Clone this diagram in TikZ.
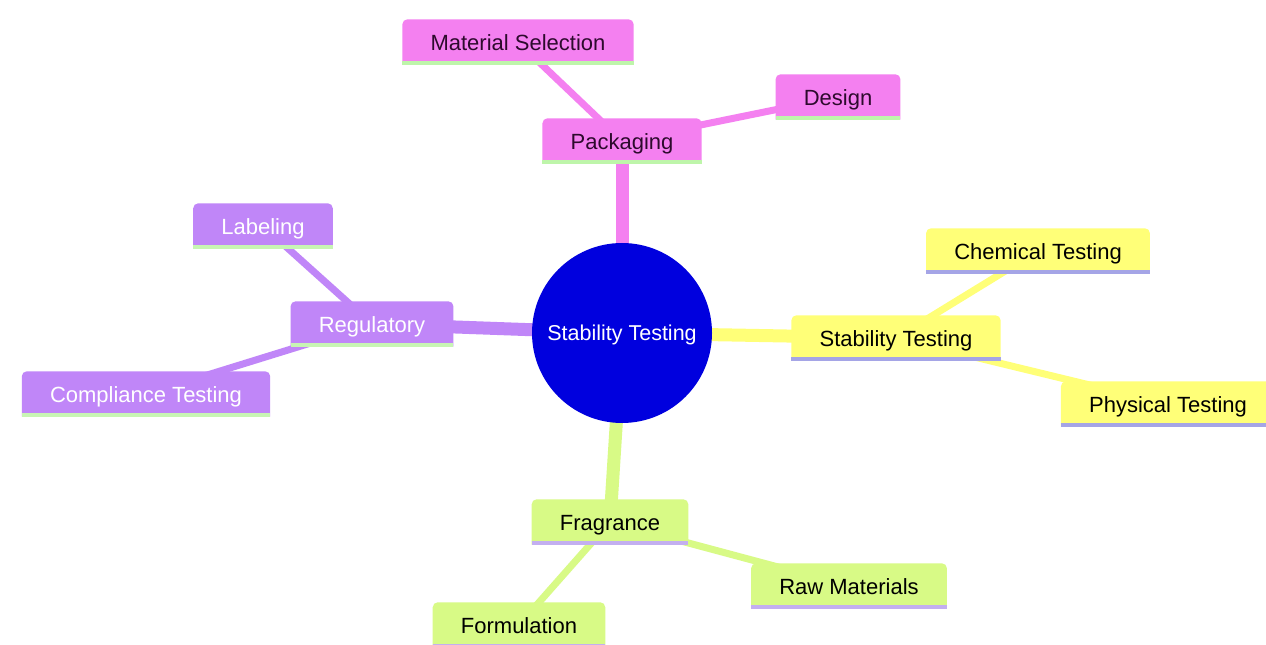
\documentclass[tikz,border=0pt]{standalone}
\usepackage{fontspec}
\setmainfont{Liberation Sans}
\pgfdeclarelayer{edges}
\pgfdeclarelayer{boxes}
\pgfsetlayers{edges,boxes,main}
\definecolor{rootblue}{RGB}{0,0,222}
\definecolor{pinkF}{RGB}{244,128,240}
\definecolor{pinkL}{RGB}{190,245,170}
\definecolor{pinkT}{RGB}{45,10,45}
\definecolor{yelF}{RGB}{255,255,120}
\definecolor{yelL}{RGB}{165,165,230}
\definecolor{purF}{RGB}{192,134,248}
\definecolor{purL}{RGB}{200,245,180}
\definecolor{grnF}{RGB}{216,250,134}
\definecolor{grnL}{RGB}{195,175,240}
\newcommand\mmshape[3]{%
  \begin{pgfonlayer}{boxes}
    \fill[#2] (#1.south west) -- ([yshift=-5pt]#1.north west)
      arc[start angle=180,end angle=90,radius=5pt]
      -- ([xshift=-5pt]#1.north east)
      arc[start angle=90,end angle=0,radius=5pt]
      -- (#1.south east) -- cycle;
    \draw[#3,line width=4pt] ([yshift=2pt]#1.south west) -- ([yshift=2pt]#1.south east);
  \end{pgfonlayer}}
\tikzset{
  mmbox/.style={inner xsep=28pt, inner ysep=0pt, minimum height=45pt,
    text height=19pt, text depth=2pt, font=\fontsize{22}{26}\selectfont},
  mainedge/.style={line width=13pt},
  subedge/.style={line width=7pt},
}
\begin{document}
\begin{tikzpicture}[x=1pt,y=1pt]
\clip (0,0) rectangle (1266,645);
\begin{pgfonlayer}{edges}
\fill[white] (0,0) rectangle (1266,645);
\end{pgfonlayer}
% root
\node[circle, fill=rootblue, minimum size=180pt, inner sep=0pt, text=white,
  text height=18pt, text depth=3pt,
  font=\fontsize{21.5}{26}\selectfont] (root) at (622,312) {Stability Testing};
% pink branch
\node[mmbox, text=pinkT] (pack) at (622,504) {Packaging};
\node[mmbox, text=pinkT] (matsel) at (518,603) {Material Selection};
\node[mmbox, text=pinkT] (design) at (838,548) {Design};
% yellow branch
\node[mmbox, text=black] (stab) at (896,307) {Stability Testing};
\node[mmbox, text=black] (chem) at (1038,394) {Chemical Testing};
\node[mmbox, text=black] (phys) at (1168,241) {Physical Testing};
% purple branch
\node[mmbox, text=white] (reg) at (372,321) {Regulatory};
\node[mmbox, text=white] (label) at (263,419) {Labeling};
\node[mmbox, text=white] (comp) at (146,251) {Compliance Testing};
% green branch
\node[mmbox, text=black] (frag) at (610,123) {Fragrance};
\node[mmbox, text=black] (raw) at (849,59) {Raw Materials};
\node[mmbox, text=black] (form) at (519,20) {Formulation};
% shapes
\mmshape{pack}{pinkF}{pinkL}
\mmshape{matsel}{pinkF}{pinkL}
\mmshape{design}{pinkF}{pinkL}
\mmshape{stab}{yelF}{yelL}
\mmshape{chem}{yelF}{yelL}
\mmshape{phys}{yelF}{yelL}
\mmshape{reg}{purF}{purL}
\mmshape{label}{purF}{purL}
\mmshape{comp}{purF}{purL}
\mmshape{frag}{grnF}{grnL}
\mmshape{raw}{grnF}{grnL}
\mmshape{form}{grnF}{grnL}
% edges
\begin{pgfonlayer}{edges}
\draw[mainedge, pinkF] (root.center) -- (pack.center);
\draw[mainedge, yelF] (root.center) -- (stab.center);
\draw[mainedge, purF] (root.center) -- (reg.center);
\draw[mainedge, grnF] (root.center) -- (frag.center);
\draw[subedge, pinkF] (pack.center) -- (matsel.center);
\draw[subedge, pinkF] (pack.center) -- (design.center);
\draw[subedge, yelF] (stab.center) -- (chem.center);
\draw[subedge, yelF] (stab.center) -- (phys.center);
\draw[subedge, purF] (reg.center) -- (label.center);
\draw[subedge, purF] (reg.center) -- (comp.center);
\draw[subedge, grnF] (frag.center) -- (raw.center);
\draw[subedge, grnF] (frag.center) -- (form.center);
\end{pgfonlayer}
\end{tikzpicture}
\end{document}
